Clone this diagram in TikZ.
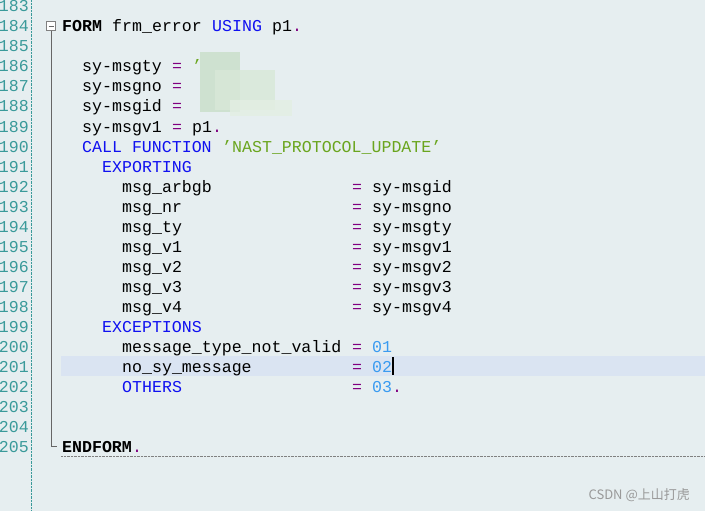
\documentclass[tikz,border=0pt]{standalone}
\usepackage{fontspec}
\setmainfont{Liberation Mono}
\newfontfamily\cjkf{Noto Sans CJK SC}
\definecolor{bg}{HTML}{E6EEF0}
\definecolor{hl}{HTML}{DAE4F2}
\definecolor{lnum}{HTML}{3A9A9A}
\definecolor{kw}{HTML}{1010F0}
\definecolor{str}{HTML}{6AA51E}
\definecolor{num}{HTML}{3A9BF0}
\definecolor{op}{HTML}{800080}
\definecolor{blur}{HTML}{C8DEC8}
\newcounter{tk}
\newcommand{\tk}[4][black]{\stepcounter{tk}\node[code,text=#1] (t\thetk) at (62+10*#2,{12+(#3-183)*20}) {#4};}
\newcommand{\lnumber}[1]{\node[lnumst] (n#1) at (29,{12+(#1-183)*20}) {#1};}
\begin{document}
\begin{tikzpicture}[x=1pt,y=-1pt,
 code/.style={anchor=base west,inner sep=0pt,font=\fontsize{16.6}{18}\selectfont},
 lnumst/.style={anchor=base east,inner sep=0pt,text=lnum,font=\fontsize{16.6}{18}\selectfont}]
\fill[bg] (0,0) rectangle (705,511);
\useasboundingbox (0,0) rectangle (705,511);
\fill[hl] (61,356) rectangle (705,376);
\draw[lnum,densely dotted] (31,0) -- (31,511);
\foreach \i in {183,...,205} {\lnumber{\i}}
% fold marker
\node[draw=gray,fill=white,minimum size=9pt,inner sep=0pt] (fold) at (51,26) {};
\draw[gray!80!black] (fold.center) ++(-2.5,0) -- ++(5,0);
\coordinate (fe) at (57,446);
\draw[gray!80!black] (fold.south) -- (51,446) -- (fe);
\draw[gray,densely dotted] (61,456) -- (705,456);
% blurred region
\fill[blur,opacity=0.8] (200,52) rectangle (240,112);
\fill[blur!70!white,opacity=0.8] (215,70) rectangle (275,110);
\fill[blur!50!white,opacity=0.8] (230,100) rectangle (292,116);
% code
\tk{0}{184}{\bfseries FORM}\tk{5}{184}{frm\_error}\tk[kw]{15}{184}{USING}\tk{21}{184}{p1}\tk[op]{23}{184}{.}
\tk{2}{186}{sy-msgty}\tk[op]{11}{186}{=}\tk[str]{13}{186}{'}
\tk{2}{187}{sy-msgno}\tk[op]{11}{187}{=}
\tk{2}{188}{sy-msgid}\tk[op]{11}{188}{=}
\tk{2}{189}{sy-msgv1}\tk[op]{11}{189}{=}\tk{13}{189}{p1}\tk[op]{15}{189}{.}
\tk[kw]{2}{190}{CALL FUNCTION}\tk[str]{16}{190}{'NAST\_PROTOCOL\_UPDATE'}
\tk[kw]{4}{191}{EXPORTING}
\tk{6}{192}{msg\_arbgb}\tk[op]{29}{192}{=}\tk{31}{192}{sy-msgid}
\tk{6}{193}{msg\_nr}\tk[op]{29}{193}{=}\tk{31}{193}{sy-msgno}
\tk{6}{194}{msg\_ty}\tk[op]{29}{194}{=}\tk{31}{194}{sy-msgty}
\tk{6}{195}{msg\_v1}\tk[op]{29}{195}{=}\tk{31}{195}{sy-msgv1}
\tk{6}{196}{msg\_v2}\tk[op]{29}{196}{=}\tk{31}{196}{sy-msgv2}
\tk{6}{197}{msg\_v3}\tk[op]{29}{197}{=}\tk{31}{197}{sy-msgv3}
\tk{6}{198}{msg\_v4}\tk[op]{29}{198}{=}\tk{31}{198}{sy-msgv4}
\tk[kw]{4}{199}{EXCEPTIONS}
\tk{6}{200}{message\_type\_not\_valid}\tk[op]{29}{200}{=}\tk[num]{31}{200}{01}
\tk{6}{201}{no\_sy\_message}\tk[op]{29}{201}{=}\tk[num]{31}{201}{02}
\tk[kw]{6}{202}{OTHERS}\tk[op]{29}{202}{=}\tk[num]{31}{202}{03}\tk[op]{33}{202}{.}
\tk{0}{205}{\bfseries ENDFORM}\tk[op]{7}{205}{.}
\draw[black,line width=1.2pt] (393,357) -- (393,375);
\node[anchor=base east,inner sep=0pt,text=gray!80,font=\cjkf\fontsize{13}{15}\selectfont] (wm) at (690,499) {CSDN @上山打虎};
\end{tikzpicture}
\end{document}
